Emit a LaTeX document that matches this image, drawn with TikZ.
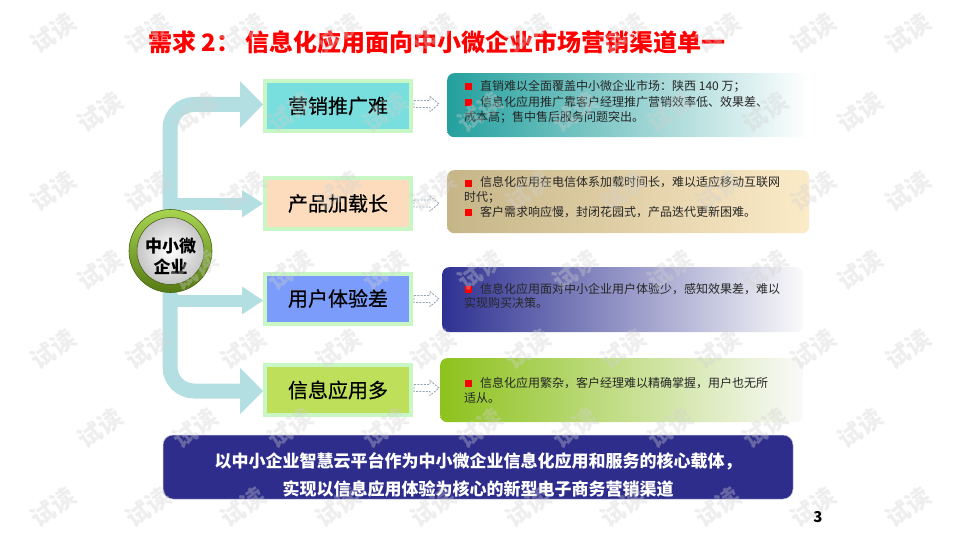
\documentclass[tikz,border=0pt]{standalone}
\usepackage{fontspec}
\setmainfont{Noto Sans CJK SC}
\newfontfamily\cjkmed[FakeBold=0.5]{Noto Sans CJK SC}
\usetikzlibrary{calc}
\definecolor{pale}{HTML}{B4DFE2}
\definecolor{titlered}{HTML}{FF0000}
\definecolor{lb1}{HTML}{78DEDE}
\definecolor{lb2}{HTML}{FDDCBD}
\definecolor{lb3}{HTML}{7B9CFA}
\definecolor{lb4}{HTML}{BDDF5A}
\definecolor{lborder}{HTML}{C8F7C5}
\definecolor{r1l}{HTML}{23A09E}
\definecolor{r2l}{HTML}{C6B587}
\definecolor{r2r}{HTML}{FCEBC8}
\definecolor{r3l}{HTML}{2E3192}
\definecolor{r4l}{HTML}{8DC21C}
\definecolor{navy}{HTML}{2E2D8C}
\definecolor{ringlight}{HTML}{A8D450}
\definecolor{ringdark}{HTML}{557A14}
\definecolor{harrowc}{HTML}{8FA6B6}
\newcommand\redsq{{\color{red}\rule[0.3pt]{7pt}{7pt}}}
\tikzset{
  lbox/.style={draw=lborder, line width=4pt, minimum width=146pt, minimum height=50pt,
    inner sep=0pt, font=\cjkmed\fontsize{20}{20}\selectfont, text=black},
  rbox/.style={rounded corners=7pt, anchor=north west, inner sep=0pt},
  rtxt/.style={anchor=west, inner sep=0pt, font=\fontsize{12}{14}\selectfont, text=black!85},
  bottxt/.style={inner sep=0pt, font=\fontsize{17}{17}\selectfont\bfseries, text=white},
  harrow/.style={draw=harrowc, dash pattern=on 2pt off 1.3pt, line width=0.9pt},
  hollowarrow/.pic={\draw[harrow] (0,-3.5) -- (16,-3.5) -- (16,-7.5) -- (25,0) -- (16,7.5) -- (16,3.5) -- (0,3.5) -- cycle;},
  wm/.style={rotate=35, inner sep=0pt, font=\fontsize{24}{24}\selectfont\bfseries,
    text=white!82!black, opacity=0.35}
}
\begin{document}
\begin{tikzpicture}[x=1pt,y=-1pt]
\useasboundingbox (0,0) rectangle (960,540);
\fill[white] (0,0) rectangle (960,540);

% title
\node[inner sep=0pt, font=\fontsize{24}{24}\selectfont\bfseries, text=titlered] (title) at (437,42)
  {需求 2： 信息化应用面向中小微企业市场营销渠道单一};

% left boxes
\node[lbox, fill=lb1] (b1) at (338,106) {营销推广难};
\node[lbox, fill=lb2] (b2) at (338,203.5) {产品加载长};
\node[lbox, fill=lb3] (b3) at (338,298.5) {用户体验差};
\node[lbox, fill=lb4] (b4) at (338,390) {信息应用多};

% hub position
\coordinate (hc) at (170,251);

% thick pale arrows
\draw[pale, line width=15pt, rounded corners=24pt] (hc) |- ($(b1.west)+(-22,-1.5)$);
\draw[pale, line width=15pt, rounded corners=24pt] (hc) |- ($(b4.west)+(-22,1)$);
\draw[pale, line width=12pt] (hc) |- ($(b2.west)+(-20,0)$);
\draw[pale, line width=12pt] (hc) |- ($(b3.west)+(-20,2)$);
\fill[pale] ($(b1.west)+(-23,-25)$) -- ($(b1.west)+(0,-1.5)$) -- ($(b1.west)+(-23,22)$) -- cycle;
\fill[pale] ($(b4.west)+(-23,-22)$) -- ($(b4.west)+(0,1)$) -- ($(b4.west)+(-23,24)$) -- cycle;
\fill[pale] ($(b2.west)+(-21,-13.5)$) -- (b2.west) -- ($(b2.west)+(-21,14)$) -- cycle;
\fill[pale] ($(b3.west)+(-21,-12)$) -- ($(b3.west)+(0,2)$) -- ($(b3.west)+(-21,16)$) -- cycle;

% hub
\node[circle, minimum size=83pt, inner sep=0pt, top color=ringlight, bottom color=ringdark,
  draw=ringdark!80!black, line width=0.6pt] (hub) at (170.5,251) {};
\node[circle, minimum size=67pt, inner sep=0pt, inner color=white, outer color=gray!45,
  draw=ringdark!70!black, line width=0.5pt] (hubin) at (hub.center) {};
\node[inner sep=0pt, align=center, font=\fontsize{17}{21}\selectfont\bfseries, text=black]
  (hubtxt) at (170.5,256) {中小微\\企业};

% right boxes
\node[rbox, minimum width=361pt, minimum height=64pt, left color=r1l, right color=white] (r1) at (447,73) {};
\node[rbox, minimum width=362pt, minimum height=63pt, left color=r2l, right color=r2r] (r2) at (447,170) {};
\node[rbox, minimum width=361pt, minimum height=65pt, left color=r3l, right color=white!96!gray] (r3) at (442,267) {};
\node[rbox, minimum width=363pt, minimum height=64pt, left color=r4l, right color=white!96!gray] (r4) at (440,358) {};

% hollow dashed arrows
\pic at ($(b1.east)+(1,-2)$) {hollowarrow};
\pic at ($(b2.east)+(1,0)$) {hollowarrow};
\pic at ($(b3.east)+(1,0.5)$) {hollowarrow};
\pic at ($(b4.east)+(1,-2)$) {hollowarrow};

% texts in right boxes
\node[rtxt] (t1a) at (465,86) {\redsq\hspace{8pt}直销难以全面覆盖中小微企业市场：陕西 140 万；};
\node[rtxt] (t1b) at (465,101.5) {\redsq\hspace{8pt}信息化应用推广靠客户经理推广营销效率低、效果差、};
\node[rtxt] (t1c) at (464,117) {成本高；售中售后服务问题突出。};

\node[rtxt] (t2a) at (465,182.5) {\redsq\hspace{8pt}信息化应用在电信体系加载时间长，难以适应移动互联网};
\node[rtxt] (t2b) at (464,197.5) {时代；};
\node[rtxt] (t2c) at (465,212) {\redsq\hspace{8pt}客户需求响应慢，封闭花园式，产品迭代更新困难。};

\node[rtxt] (t3a) at (465,289) {\redsq\hspace{8pt}信息化应用面对中小企业用户体验少，感知效果差，难以};
\node[rtxt] (t3b) at (464,303) {实现购买决策。};

\node[rtxt] (t4a) at (465,383) {\redsq\hspace{8pt}信息化应用繁杂，客户经理难以精确掌握，用户也无所};
\node[rtxt] (t4b) at (464,398) {适从。};

% bottom banner
\node[fill=navy, rounded corners=10pt, minimum width=630pt, minimum height=64pt, inner sep=0pt,
  draw=white!70!navy, line width=0.5pt] (bot) at (478,467) {};
\node[bottxt] (bt1) at (478,461) {以中小企业智慧云平台作为中小微企业信息化应用和服务的核心载体，};
\node[bottxt] (bt2) at (478,489) {实现以信息应用体验为核心的新型电子商务营销渠道};

% page number
\node[inner sep=0pt, font=\fontsize{15}{15}\selectfont\bfseries] (pg) at (818,517) {3};

% watermarks
\foreach \j in {0,...,6} {
  \pgfmathtruncatemacro\kmax{9-mod(\j,2)}
  \foreach \k in {0,...,\kmax} {
    \pgfmathsetmacro\wx{53+95*\k+47*mod(\j,2)}
    \pgfmathsetmacro\wy{33+79*\j}
    \node[wm] (w\j\k) at (\wx,\wy) {试读};
  }
}
\end{tikzpicture}
\end{document}
